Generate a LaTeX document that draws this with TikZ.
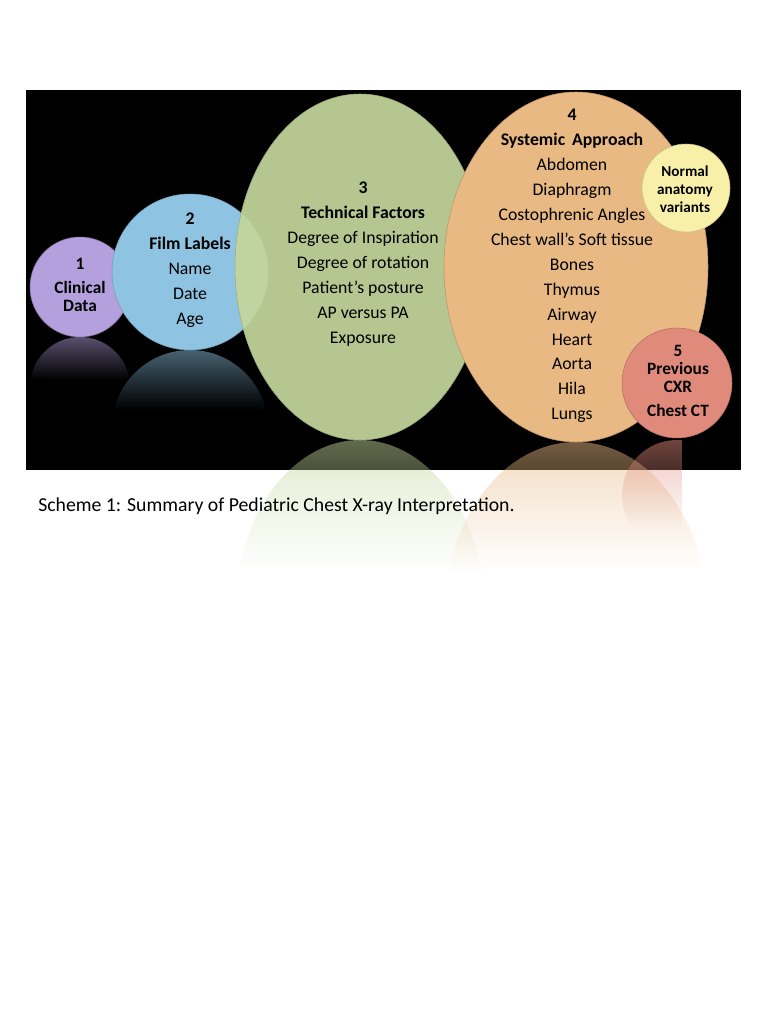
\documentclass[tikz,border=0pt]{standalone}
\usepackage{fontspec}
\setmainfont{Carlito}
\usetikzlibrary{fadings}
\definecolor{cpur}{HTML}{B4A0DC}
\definecolor{cblu}{HTML}{8EC4E2}
\definecolor{cgrn}{HTML}{C3D69B}
\definecolor{corg}{HTML}{E8B983}
\definecolor{cyel}{HTML}{F8F0A8}
\definecolor{csal}{HTML}{E08A7C}
\tikzfading[name=refl, top color=transparent!50, bottom color=transparent!100]
\begin{document}
\begin{tikzpicture}[x=0.75pt,y=-0.75pt,
  lbl/.style={align=center,font=\fontsize{13.3}{18.7}\selectfont}]
\useasboundingbox (0,0) rectangle (768,1024);
\fill[white] (0,0) rectangle (768,1024);
\fill[black] (26,90) rectangle (741,470);
% reflections
\begin{scope}
\clip (80,387) circle[radius=50];
\fill[cpur,path fading=refl] (30,337) rectangle (130,380);
\end{scope}
\begin{scope}
\clip (190,428) circle[radius=78];
\fill[cblu,path fading=refl] (112,350) rectangle (268,410);
\end{scope}
\begin{scope}
\clip (360,613) ellipse[x radius=125,y radius=173];
\fill[cgrn,path fading=refl] (235,440) rectangle (485,570);
\end{scope}
\begin{scope}
\clip (576,617) ellipse[x radius=132,y radius=175];
\fill[corg,path fading=refl] (444,442) rectangle (708,570);
\end{scope}
\begin{scope}
\clip (677,495) circle[radius=55];
\fill[csal,path fading=refl] (622,440) rectangle (682,530);
\end{scope}
% shapes
\node[circle,fill=cpur,draw=cpur!70!black,minimum size=100*0.75pt,inner sep=0] (c1) at (80,287) {};
\node[circle,fill=cblu,draw=cblu!80!black,minimum size=156*0.75pt,inner sep=0] (c2) at (190,272) {};
\fill[cgrn,opacity=0.93] (360,267) ellipse[x radius=125,y radius=173];
\draw[cgrn!80!black] (360,267) ellipse[x radius=125,y radius=173];
\coordinate (c3) at (360,267);
\fill[corg] (576,267) ellipse[x radius=132,y radius=175];
\draw[corg!80!black] (576,267) ellipse[x radius=132,y radius=175];
\coordinate (c4) at (576,267);
\node[circle,fill=cyel,draw=cyel!80!black,minimum size=88*0.75pt,inner sep=0] (cn) at (686,188) {};
\node[circle,fill=csal,draw=csal!80!black,minimum size=110*0.75pt,inner sep=0] (c5) at (677,383) {};
% texts
\node[lbl,font=\bfseries\fontsize{13}{13}\selectfont] at (80,285) {1\\[5pt]Clinical\\Data};
\node[lbl] at (190,270) {\textbf{2}\\\textbf{Film Labels}\\Name\\Date\\Age};
\node[lbl] at (363,264) {\textbf{3}\\\textbf{Technical Factors}\\Degree of Inspiration\\Degree of rotation\\Patient’s posture\\AP versus PA\\Exposure};
\node[lbl] at (572,266) {\textbf{4}\\\textbf{Systemic\, Approach}\\Abdomen\\Diaphragm\\Costophrenic Angles\\Chest wall’s Soft tissue\\Bones\\Thymus\\Airway\\Heart\\Aorta\\Hila\\Lungs};
\node[lbl,font=\bfseries\fontsize{11.4}{13.5}\selectfont] at (685,189) {Normal\\anatomy\\variants};
\node[lbl,font=\bfseries\fontsize{13}{13.5}\selectfont] at (678,381) {5\\Previous\\CXR\\[4pt]Chest CT};
\node[anchor=west,font=\fontsize{14.8}{16}\selectfont,inner sep=0] (cap) at (38,506) {Scheme 1: Summary of Pediatric Chest X-ray Interpretation.};
\end{tikzpicture}
\end{document}
